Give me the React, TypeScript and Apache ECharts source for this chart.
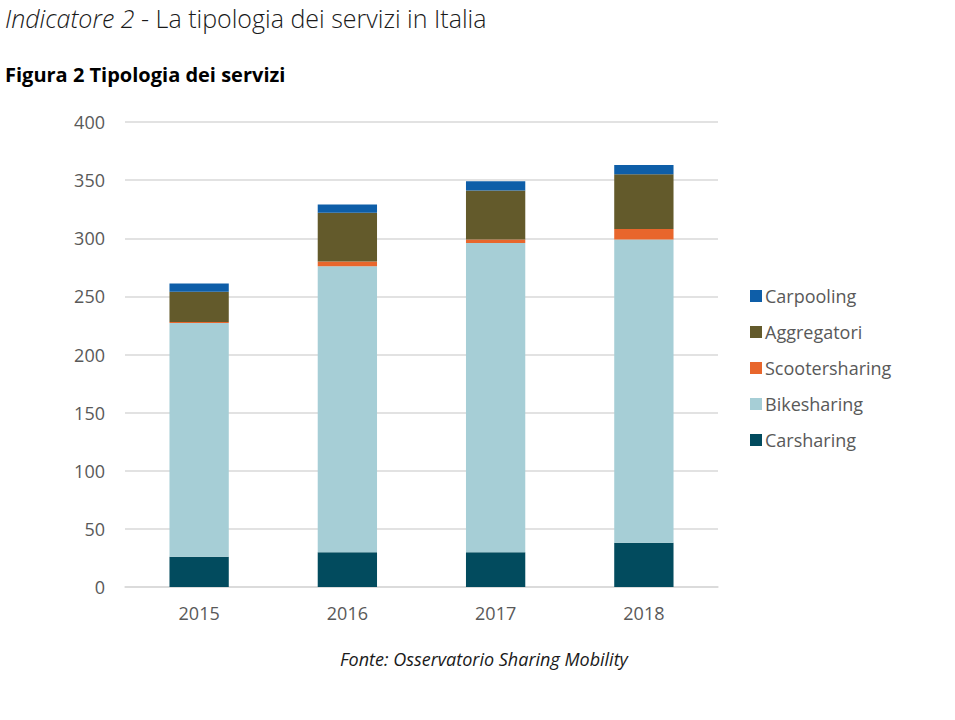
import React, { useEffect, useRef } from "react";
import * as echarts from "echarts";

const years = ["2015", "2016", "2017", "2018"];
const carsharing = [26, 30, 30, 38];
const bikesharing = [201, 246, 266, 261];
const scootersharing = [1, 4, 3, 9];
const aggregatori = [26, 42, 42, 47];
const carpooling = [7, 7, 8, 8];
const yTicks = [0, 50, 100, 150, 200, 250, 300, 350, 400];

const FONT = "'Open Sans', Lato, sans-serif";

export default function App() {
  const ref = useRef<HTMLDivElement>(null);

  useEffect(() => {
    document.body.style.margin = "0";
    const chart = echarts.init(ref.current!, null, { renderer: "svg" });

    const seriesDefs = [
      { name: "Carsharing", data: carsharing, color: "#024B5E" },
      { name: "Bikesharing", data: bikesharing, color: "#A6CED6" },
      { name: "Scootersharing", data: scootersharing, color: "#E8662C" },
      { name: "Aggregatori", data: aggregatori, color: "#635A2B" },
      { name: "Carpooling", data: carpooling, color: "#0E5EA8" },
    ];

    chart.setOption({
      animation: false,
      backgroundColor: "#ffffff",
      textStyle: { fontFamily: FONT },
      graphic: [
        {
          type: "text",
          left: 5,
          top: 5,
          style: {
            text: "{i|Indicatore 2} - La tipologia dei servizi in Italia",
            fontFamily: FONT,
            fontSize: 25,
            fontWeight: 300,
            fill: "#1a1a1a",
            rich: {
              i: { fontStyle: "italic", fontFamily: FONT, fontSize: 25, fontWeight: 300, fill: "#1a1a1a" },
            },
          },
        },
        {
          type: "text",
          left: 5,
          top: 64,
          style: {
            text: "Figura 2 Tipologia dei servizi",
            fontFamily: FONT,
            fontSize: 20,
            fontWeight: "bold",
            fill: "#000000",
          },
        },
        {
          type: "text",
          left: 340,
          top: 650,
          style: {
            text: "Fonte: Osservatorio Sharing Mobility",
            fontFamily: FONT,
            fontSize: 18,
            fontStyle: "italic",
            fill: "#1a1a1a",
          },
        },
      ],
      legend: {
        orient: "vertical",
        left: 745,
        top: 282,
        itemWidth: 12,
        itemHeight: 12,
        itemGap: 18,
        icon: "rect",
        data: ["Carpooling", "Aggregatori", "Scootersharing", "Bikesharing", "Carsharing"],
        textStyle: { fontFamily: FONT, fontSize: 18, color: "#595959", padding: [0, 0, 0, -2] },
      },
      grid: { left: 125, right: 237, top: 122, bottom: 133 },
      xAxis: {
        type: "category",
        data: years,
        axisLine: { lineStyle: { color: "#d9d9d9", width: 1.5 } },
        axisTick: { show: false },
        axisLabel: { fontFamily: FONT, fontSize: 18, color: "#595959", margin: 17 },
      },
      yAxis: {
        type: "value",
        min: yTicks[0],
        max: yTicks[yTicks.length - 1],
        interval: 50,
        axisLine: { show: false },
        axisTick: { show: false },
        splitLine: { lineStyle: { color: "#d9d9d9", width: 1.5 } },
        axisLabel: { fontFamily: FONT, fontSize: 18, color: "#595959", margin: 20 },
      },
      series: seriesDefs.map((s) => ({
        name: s.name,
        type: "bar",
        stack: "total",
        barWidth: "40%",
        data: s.data,
        itemStyle: { color: s.color },
      })),
    });

    return () => chart.dispose();
  }, []);

  return <div ref={ref} style={{ width: 955, height: 720 }} />;
}
